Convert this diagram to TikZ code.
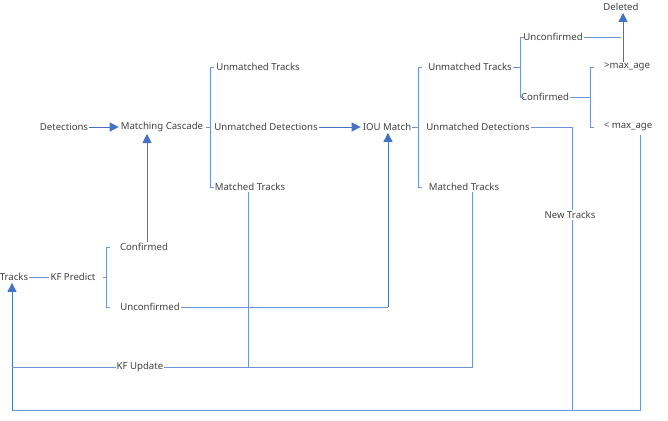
\documentclass[tikz,border=0pt]{standalone}
\usepackage{fontspec}
\setmainfont{Noto Sans}
\usetikzlibrary{arrows.meta}
\definecolor{ln}{HTML}{6F93DB}
\definecolor{ar}{HTML}{4472C4}
\begin{document}
\begin{tikzpicture}[x=1pt,y=-1pt,
  t/.style={inner sep=1pt,font=\fontsize{9.6}{10}\selectfont,text=black!75},
  l/.style={draw=ln,line width=0.8pt},
  a/.style={draw=ar,line width=1pt,-{Triangle[length=9pt,width=9pt]},shorten >=1pt}]
\path[use as bounding box] (0,0) rectangle (668,420);
% texts
\node[t] (det) at (64,127) {Detections};
\node[t] (mc) at (162,127) {Matching Cascade};
\node[t] (ut1) at (258,67) {Unmatched Tracks};
\node[t] (ud1) at (266,127) {Unmatched Detections};
\node[t] (mt1) at (250,187) {Matched Tracks};
\node[t] (iou) at (387,127) {IOU Match};
\node[t] (ut2) at (470,67) {Unmatched Tracks};
\node[t] (ud2) at (478,127) {Unmatched Detections};
\node[t] (mt2) at (464,187) {Matched Tracks};
\node[t] (unc2) at (553,37) {Unconfirmed};
\node[t] (con2) at (545,97) {Confirmed};
\node[t] (gt) at (627,67) {>max\_age};
\node[t] (lt) at (628,127) {< max\_age};
\node[t] (del) at (621,7) {Deleted};
\node[t] (nt) at (570,215) {New Tracks};
\node[t] (tr) at (14,277) {Tracks};
\node[t] (kfp) at (73,277) {KF Predict};
\node[t] (con1) at (144,247) {Confirmed};
\node[t] (unc1) at (150,307) {Unconfirmed};
\node[t] (kfu) at (140,367) {KF Update};
\coordinate (b) at (12,410);
% brackets
\draw[l] (214,67) -- (210,67) -- (210,187) -- (214,187) (206,127) -- (210,127);
\draw[l] (422,67) -- (418,67) -- (418,187) -- (422,187) (412,127) -- (418,127);
\draw[l] (524,37) -- (520,37) -- (520,97) -- (524,97) (ut2.east) -- (520,67);
\draw[l] (594,67) -- (590,67) -- (590,127) -- (594,127) (con2.east) -- (590,97);
\draw[l] (110,247) -- (106,247) -- (106,307) -- (110,307) (103,277) -- (106,277);
% connectors
\draw[a] (det) -- (mc);
\draw[a] (ud1) -- (iou);
\draw[l] (tr) -- (kfp);
\draw[a] (con1.north -| 147,0) -- (mc.south -| 147,0);
\draw[l] (unc1) -- (388,307);
\draw[a] (388,307) -- (iou.south -| 388,0);
\draw[l] (unc2) -- (621,37);
\draw[a] (gt.north -| 623,0) -- (del.south -| 623,0);
\draw[l] (ud2) -- (572,127) -- (nt.north -| 572,0);
\draw[l] (nt.south -| 572,0) -- (572,410);
\draw[l] (640,135) -- (640,410) -- (b);
\draw[a] (b) -- (tr.south -| b);
\draw[l] (mt1.south -| 248,0) -- (248,367);
\draw[l] (mt2.south -| 472,0) -- (472,367) -- (kfu) -- (12,367);
\end{tikzpicture}
\end{document}
